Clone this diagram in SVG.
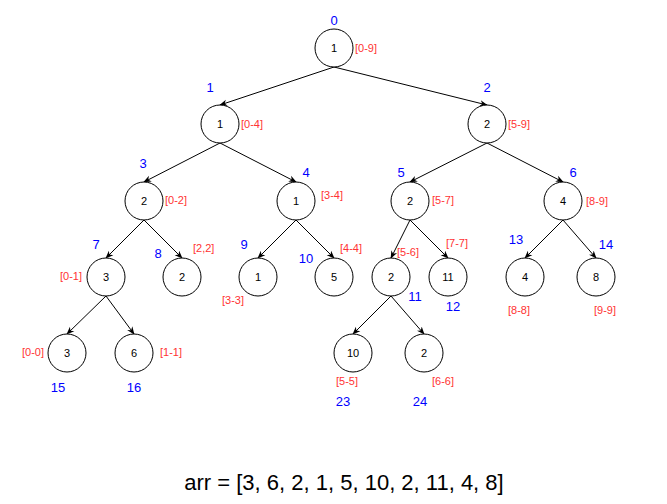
<svg xmlns="http://www.w3.org/2000/svg" width="667" height="504" viewBox="0 0 667 504">
<style>
.n circle{fill:#fff;stroke:#000;stroke-width:1}
.n text{font-family:"Liberation Sans",Arial,sans-serif;font-size:11px;text-anchor:middle;dominant-baseline:central;fill:#000}
.r{font-family:"Liberation Sans",Arial,sans-serif;font-size:11px;fill:#ff3333;dominant-baseline:central}
.i{font-family:"Liberation Sans",Arial,sans-serif;font-size:13px;fill:#0000ff;text-anchor:middle;dominant-baseline:central}
#edges line{stroke:#000;stroke-width:1;marker-end:url(#a)}
</style>
<defs><marker id="a" viewBox="0 0 10 10" refX="9" refY="5" markerWidth="8" markerHeight="8" orient="auto" markerUnits="userSpaceOnUse"><path d="M0,1 L10,5 L0,9 L3,5 Z" fill="#000"/></marker></defs>
<rect width="667" height="504" fill="#fff"/>
<g id="edges">
<line x1="334" y1="67" x2="220" y2="105"/>
<line x1="334" y1="67" x2="487" y2="105"/>
<line x1="220" y1="143" x2="144" y2="182"/>
<line x1="220" y1="143" x2="296" y2="182"/>
<line x1="487" y1="143" x2="410" y2="182"/>
<line x1="487" y1="143" x2="563" y2="182"/>
<line x1="144" y1="220" x2="106" y2="258"/>
<line x1="144" y1="220" x2="182" y2="258"/>
<line x1="296" y1="220" x2="258" y2="258"/>
<line x1="296" y1="220" x2="334" y2="258"/>
<line x1="410" y1="220" x2="391" y2="258"/>
<line x1="410" y1="220" x2="448" y2="258"/>
<line x1="563" y1="220" x2="525" y2="258"/>
<line x1="563" y1="220" x2="596" y2="258"/>
<line x1="106" y1="296" x2="67" y2="334"/>
<line x1="106" y1="296" x2="134" y2="334"/>
<line x1="391" y1="296" x2="353" y2="334"/>
<line x1="391" y1="296" x2="424" y2="334"/>
</g>
<g id="n0" class="n"><circle cx="334" cy="48" r="19"/><text x="334" y="48">1</text><text class="r" x="355" y="48" style="text-anchor:start;fill:#ff3333">[0-9]</text><text class="i" x="334" y="20" style="fill:#0000ff;font-size:13px">0</text></g>
<g id="n1" class="n"><circle cx="220" cy="124" r="19"/><text x="220" y="124">1</text><text x="241" y="124" style="text-anchor:start;fill:#ff3333">[0-4]</text><text x="210" y="87" style="fill:#0000ff;font-size:13px">1</text></g>
<g id="n2" class="n"><circle cx="487" cy="124" r="19"/><text x="487" y="124">2</text><text x="508" y="124" style="text-anchor:start;fill:#ff3333">[5-9]</text><text x="487" y="87" style="fill:#0000ff;font-size:13px">2</text></g>
<g id="n3" class="n"><circle cx="144" cy="201" r="19"/><text x="144" y="201">2</text><text x="165" y="200" style="text-anchor:start;fill:#ff3333">[0-2]</text><text x="143" y="163" style="fill:#0000ff;font-size:13px">3</text></g>
<g id="n4" class="n"><circle cx="296" cy="201" r="19"/><text x="296" y="201">1</text><text x="321" y="195" style="text-anchor:start;fill:#ff3333">[3-4]</text><text x="306" y="172" style="fill:#0000ff;font-size:13px">4</text></g>
<g id="n5" class="n"><circle cx="410" cy="201" r="19"/><text x="410" y="201">2</text><text x="432" y="200" style="text-anchor:start;fill:#ff3333">[5-7]</text><text x="401" y="172" style="fill:#0000ff;font-size:13px">5</text></g>
<g id="n6" class="n"><circle cx="563" cy="201" r="19"/><text x="563" y="201">4</text><text x="586" y="201" style="text-anchor:start;fill:#ff3333">[8-9]</text><text x="573" y="172" style="fill:#0000ff;font-size:13px">6</text></g>
<g id="n7" class="n"><circle cx="106" cy="277" r="19"/><text x="106" y="277">3</text><text x="60" y="276" style="text-anchor:start;fill:#ff3333">[0-1]</text><text x="96" y="244" style="fill:#0000ff;font-size:13px">7</text></g>
<g id="n8" class="n"><circle cx="182" cy="277" r="19"/><text x="182" y="277">2</text><text x="193" y="248" style="text-anchor:start;fill:#ff3333">[2,2]</text><text x="158" y="253" style="fill:#0000ff;font-size:13px">8</text></g>
<g id="n9" class="n"><circle cx="258" cy="277" r="19"/><text x="258" y="277">1</text><text x="222" y="300" style="text-anchor:start;fill:#ff3333">[3-3]</text><text x="244" y="244" style="fill:#0000ff;font-size:13px">9</text></g>
<g id="n10" class="n"><circle cx="334" cy="277" r="19"/><text x="334" y="277">5</text><text x="340" y="248" style="text-anchor:start;fill:#ff3333">[4-4]</text><text x="306" y="258" style="fill:#0000ff;font-size:13px">10</text></g>
<g id="n11" class="n"><circle cx="391" cy="277" r="19"/><text x="391" y="277">2</text><text x="397" y="252" style="text-anchor:start;fill:#ff3333">[5-6]</text><text x="415" y="296" style="fill:#0000ff;font-size:13px">11</text></g>
<g id="n12" class="n"><circle cx="448" cy="277" r="19"/><text x="448" y="277">11</text><text x="446" y="243" style="text-anchor:start;fill:#ff3333">[7-7]</text><text x="453" y="306" style="fill:#0000ff;font-size:13px">12</text></g>
<g id="n13" class="n"><circle cx="525" cy="277" r="19"/><text x="525" y="277">4</text><text x="508" y="310" style="text-anchor:start;fill:#ff3333">[8-8]</text><text x="516" y="239" style="fill:#0000ff;font-size:13px">13</text></g>
<g id="n14" class="n"><circle cx="596" cy="277" r="19"/><text x="596" y="277">8</text><text x="594" y="310" style="text-anchor:start;fill:#ff3333">[9-9]</text><text x="606" y="244" style="fill:#0000ff;font-size:13px">14</text></g>
<g id="n15" class="n"><circle cx="67" cy="353" r="19"/><text x="67" y="353">3</text><text x="22" y="352" style="text-anchor:start;fill:#ff3333">[0-0]</text><text x="58" y="387" style="fill:#0000ff;font-size:13px">15</text></g>
<g id="n16" class="n"><circle cx="134" cy="353" r="19"/><text x="134" y="353">6</text><text x="160" y="352" style="text-anchor:start;fill:#ff3333">[1-1]</text><text x="134" y="387" style="fill:#0000ff;font-size:13px">16</text></g>
<g id="n23" class="n"><circle cx="353" cy="353" r="19"/><text x="353" y="353">10</text><text x="336" y="381" style="text-anchor:start;fill:#ff3333">[5-5]</text><text x="343" y="401" style="fill:#0000ff;font-size:13px">23</text></g>
<g id="n24" class="n"><circle cx="424" cy="353" r="19"/><text x="424" y="353">2</text><text x="432" y="381" style="text-anchor:start;fill:#ff3333">[6-6]</text><text x="420" y="401" style="fill:#0000ff;font-size:13px">24</text></g>
<text x="344" y="482" style="font-family:'Liberation Sans',Arial,sans-serif;font-size:22px;text-anchor:middle;dominant-baseline:central;fill:#000">arr =  [3, 6, 2, 1, 5, 10, 2, 11, 4, 8]</text>
</svg>
